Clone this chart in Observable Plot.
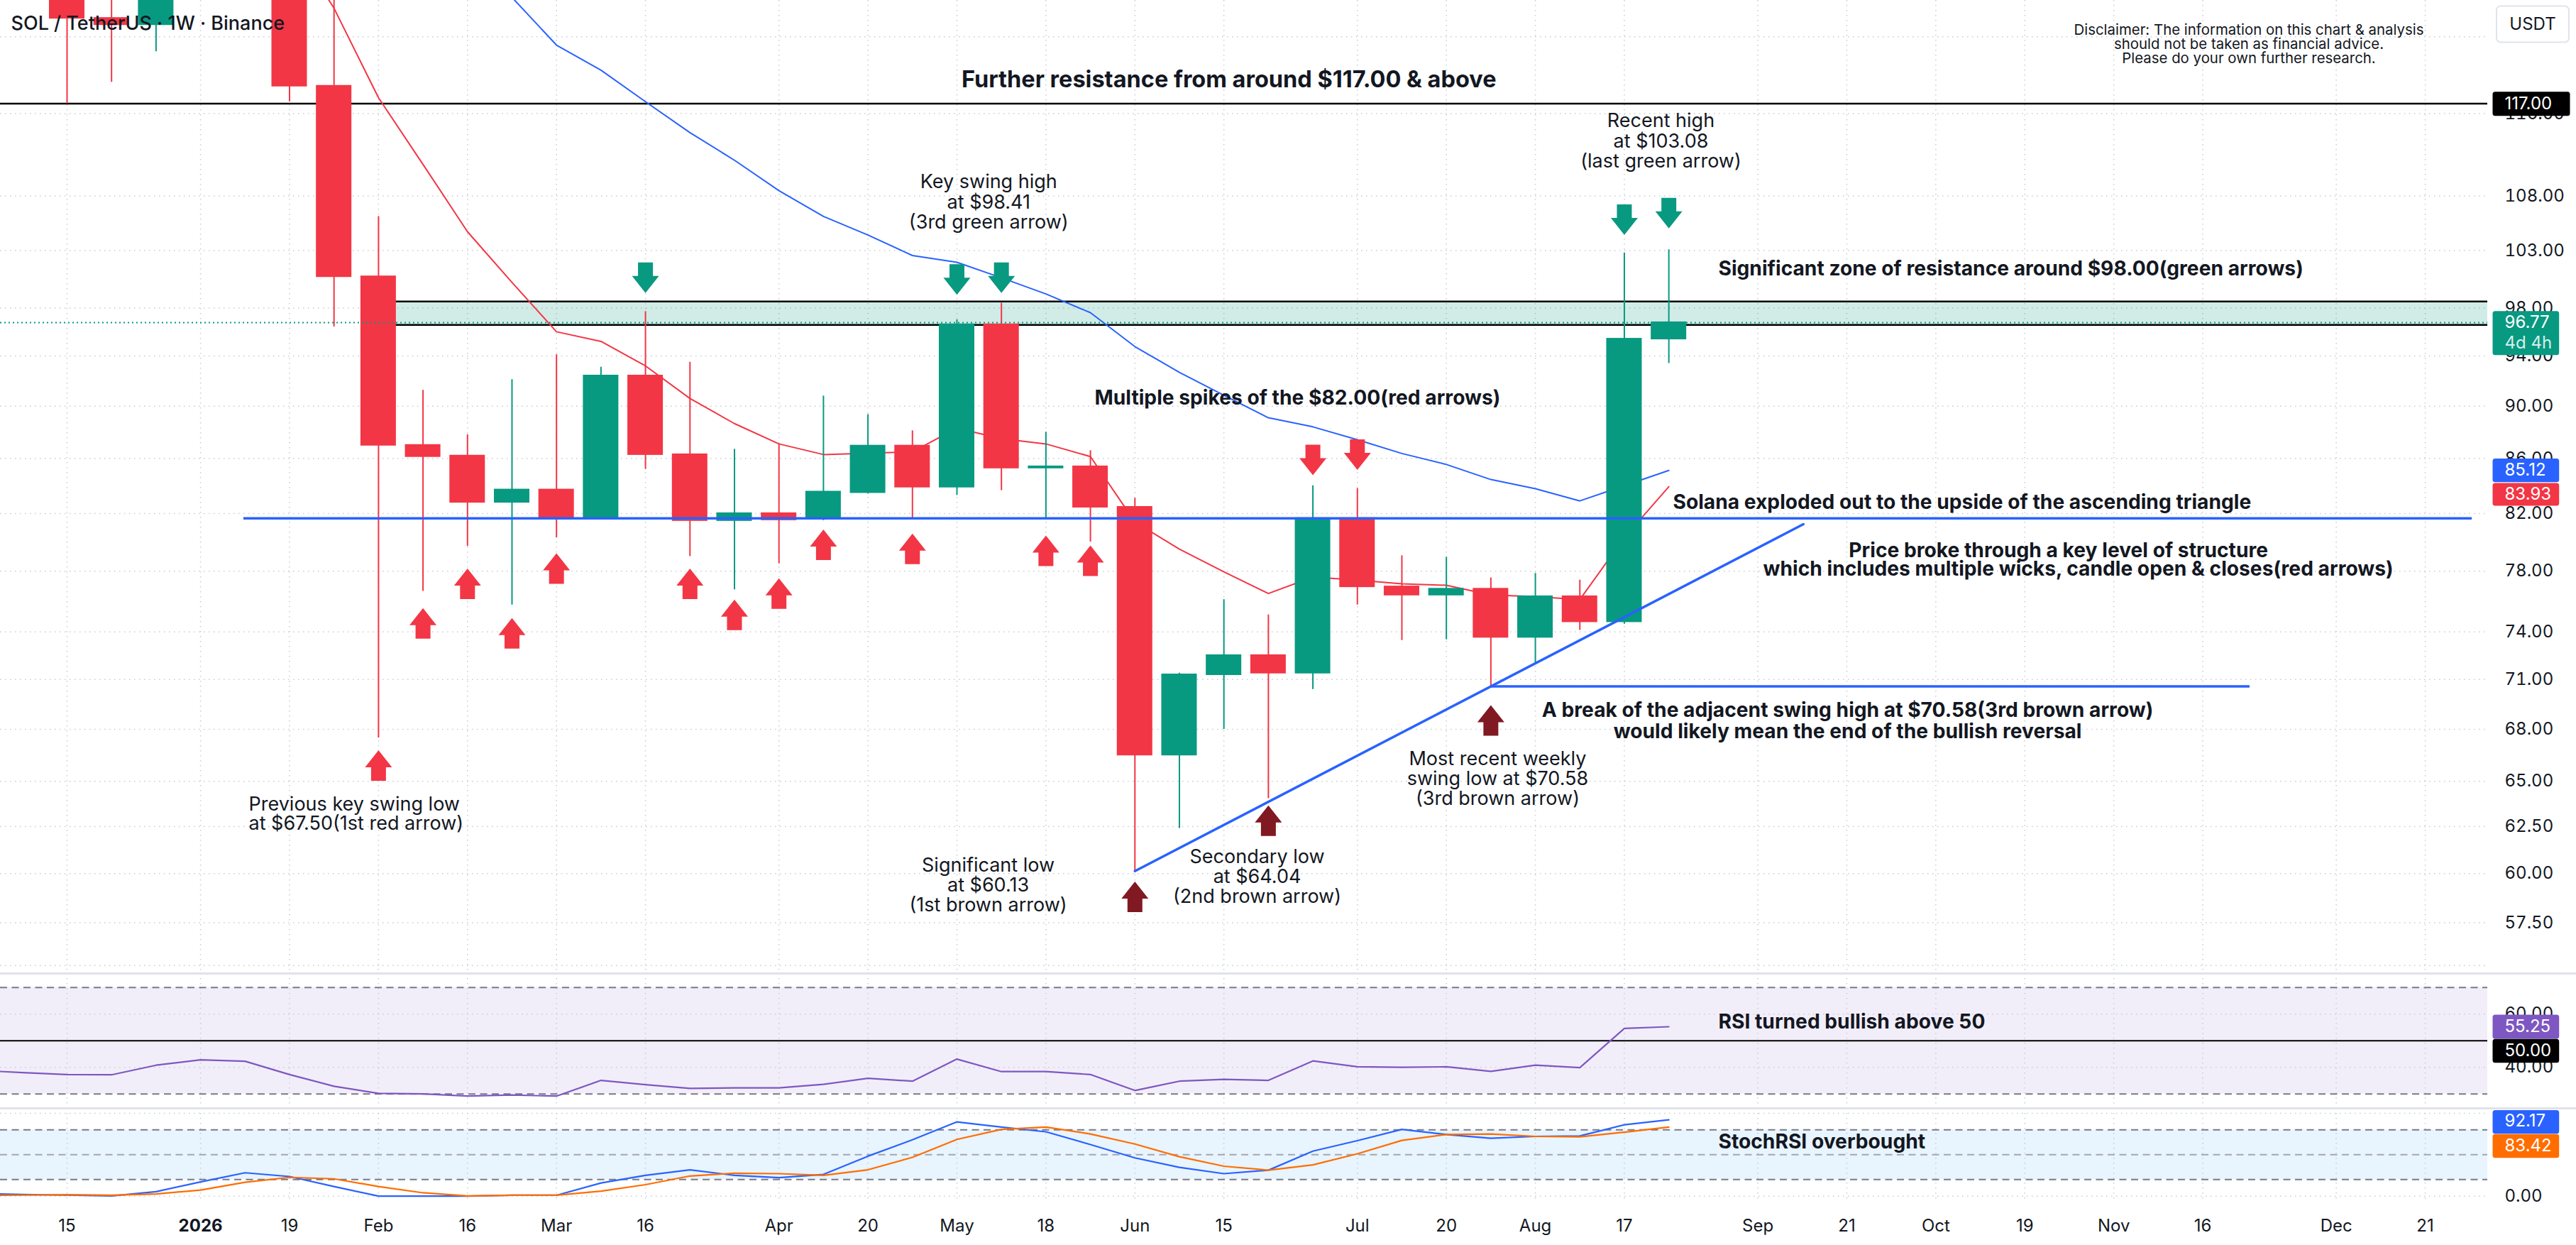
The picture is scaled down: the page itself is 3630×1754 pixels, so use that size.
<!DOCTYPE html>
<html>
<head>
<meta charset="utf-8">
<script src="https://cdn.jsdelivr.net/npm/d3@7"></script>
<script src="https://cdn.jsdelivr.net/npm/@observablehq/plot@0.6"></script>
<style>
html,body{margin:0;padding:0;background:#fff;}
#chart{width:3630px;height:1754px;overflow:hidden;background:#fff;}
#chart svg{display:block;}
</style>
</head>
<body>
<div id="chart"></div>
<script>
// ---------- DATA ----------
const weeks = ["2025-12-01","2025-12-08","2025-12-15","2025-12-22","2025-12-29","2026-01-05","2026-01-12","2026-01-19","2026-01-26","2026-02-02","2026-02-09","2026-02-16","2026-02-23","2026-03-02","2026-03-09","2026-03-16","2026-03-23","2026-03-30","2026-04-06","2026-04-13","2026-04-20","2026-04-27","2026-05-04","2026-05-11","2026-05-18","2026-05-25","2026-06-01","2026-06-08","2026-06-15","2026-06-22","2026-06-29","2026-07-06","2026-07-13","2026-07-20","2026-07-27","2026-08-03","2026-08-10","2026-08-17","2026-08-24"];
const open  = [null,null,131,126.0,125.3,null,null,131,118.8,100.7, 87.0,86.2,82.8,83.7,81.6,92.4,86.3,81.5,82.0,81.6, 83.5,86.95,83.9,96.6,85.3,85.4,82.45,66.5,71.3,72.5, 71.4,81.65,76.95,76.4,76.8,73.65,76.3,74.65,95.4];
const high  = [null,null,133,130,133,null,null,133,130,106.1, 91.25,87.8,92.1,94.1,93.1,97.7,93.5,86.7,87.1,90.8, 89.35,88.1,97.0,98.41,88.0,86.6,83.1,71.4,76.1,75.1, 84.0,83.8,79.05,78.95,77.55,77.85,77.4,102.8,103.08];
const low   = [null,null,117.0,119.2,122.4,null,null,117.2,96.4,67.5, 76.65,79.7,75.75,80.3,81.6,85.2,79.0,76.75,78.5,81.5, 83.4,81.55,83.3,83.65,81.6,80.0,60.13,62.4,68.0,64.04, 70.4,75.75,73.45,73.5,70.58,72.05,74.1,74.5,93.4];
const close = [null,null,126.0,125.3,131,null,null,118.8,100.7,87.0, 86.15,82.8,83.7,81.6,92.4,86.3,81.5,82.0,81.55,83.55, 86.95,83.9,96.6,85.3,85.4,82.45,66.5,71.3,72.5,71.4, 81.65,76.95,76.4,76.8,73.65,76.3,74.65,95.4,96.77];
const maShort = [null,null,null,null,null,null,null,135,127.1,117.6, 111.0,104.7,100.2,96.0,95.2,93.2,90.6,88.65,87.1,86.3, 86.4,86.5,88.3,87.5,87.1,86.15,81.4,79.5,77.95,76.5, 77.6,77.4,77.15,77.05,76.4,76.3,76.1,80.3,83.93];
const maLong  = [null,null,null,null,null,null,null,null,null,null, 140,134,128.3,123.1,120.45,117.2,114.1,111.4,108.5,106.1, 104.4,102.56,101.96,100.6,99.2,97.6,94.77,92.68,90.85,89.1, 88.4,87.42,86.38,85.56,84.45,83.78,82.9,84.0,85.12];
const rsi    = [38.9,38.0,37.3,37.2,40.8,42.8,42.3,37.3,32.9,30.2, 30.0,29.2,29.6,29.2,35.1,33.5,32.1,32.3,32.3,33.6, 35.9,34.8,43.1,38.4,38.4,37.3,31.3,34.8,35.5,35.1, 42.4,40.2,40.0,40.2,38.5,40.8,39.9,54.6,55.25];
const stochK = [3,2,1.2,0.3,5.4,17.2,28.2,23.7,11.6,0, 0,0,1,1,15.9,25.1,31.8,25.1,22.3,26.2, 48.2,68.0,89.6,83.4,77.7,62.3,46.2,34.7,27.1,31.3, 54.3,67.0,80.6,74.4,69.9,72.1,72.7,86.2,92.17];
const stochD = [1.0,1.2,1.7,1.0,2.6,7.3,16.7,22.6,20.9,11.6, 4.0,0.3,1,1,6.0,13.8,24.3,27.7,27.1,25.1, 31.8,46.8,68.5,80.6,83.4,75.0,62.9,47.6,36.1,31.3, 37.7,51.1,67.3,74.4,75.0,72.1,71.6,77.2,83.42];

const priceTicks = [116,108,103,98,94,90,86,82,78,74,71,68,65,62.5,60,57.5];
const extraPriceGrid = [124,55.4];
const timeTickDates  = ["2025-12-15","2026-01-05","2026-01-19","2026-02-02","2026-02-16","2026-03-02","2026-03-16","2026-04-06","2026-04-20","2026-05-04","2026-05-18","2026-06-01","2026-06-15","2026-07-06","2026-07-20","2026-08-03","2026-08-17","2026-09-07","2026-09-21","2026-10-05","2026-10-19","2026-11-02","2026-11-16","2026-12-07","2026-12-21"];
const timeTickLabels = ["15","2026","19","Feb","16","Mar","16","Apr","20","May","18","Jun","15","Jul","20","Aug","17","Sep","21","Oct","19","Nov","16","Dec","21"];

const resistance117 = [117];
const zone = [{start:"2026-02-02", low:96.57, high:98.55}];
const levelLines = [
  {start:"2026-01-11T19:00Z", end:"2026-12-28T09:00Z", price:81.66},
  {start:"2026-07-27", end:"2026-11-23T10:00Z", price:70.58}
];
const ascTrend = [{date:"2026-06-01", price:60.13},{date:"2026-09-14T04:00Z", price:81.24}];

const redUpArrows = [["2026-02-02",65.9],["2026-02-09",74.54],["2026-02-16",77.15],["2026-02-23",73.9],["2026-03-02",78.17],["2026-03-23",77.15],["2026-03-30",75.1],["2026-04-06",76.5],["2026-04-13",79.8],["2026-04-27",79.52],["2026-05-18",79.39],["2026-05-25",78.7]];
const redDownArrows = [["2026-06-29",85.9],["2026-07-06",86.3]];
const greenDownArrows = [["2026-03-16",100.6],["2026-05-04",100.45],["2026-05-11",100.6],["2026-08-17",105.8],["2026-08-24",106.4]];
const brownUpArrows = [["2026-06-01",58.8],["2026-06-22",62.82],["2026-07-27",68.52]];

const titleNote = [{date:"2026-05-04T17:30Z", price:119.45, text:"Further resistance from around $117.00 & above"}];
const boldNotesStart = [
  {date:"2026-08-31T19:00Z", price:101.4, text:"Significant zone of resistance around $98.00(green arrows)"},
  {date:"2026-05-25T16:00Z", price:90.65, text:"Multiple spikes of the $82.00(red arrows)"},
  {date:"2026-08-24T15:30Z", price:82.8, text:"Solana exploded out to the upside of the ascending triangle"}
];
const boldNotesMiddle = [
  {date:"2026-10-24T07:00Z", price:79.38, text:"Price broke through a key level of structure"},
  {date:"2026-10-27T10:00Z", price:78.13, text:"which includes multiple wicks, candle open & closes(red arrows)"},
  {date:"2026-09-21T03:00Z", price:68.5, text:"A break of the adjacent swing high at $70.58(3rd brown arrow)\nwould likely mean the end of the bullish reversal"}
];
const notesMiddle = [
  {date:"2026-08-22T18:00Z", price:113.28, text:"Recent high\nat $103.08\n(last green arrow)"},
  {date:"2026-05-09T00:00Z", price:107.44, text:"Key swing high\nat $98.41\n(3rd green arrow)"},
  {date:"2026-05-08T22:00Z", price:59.40, text:"Significant low\nat $60.13\n(1st brown arrow)"},
  {date:"2026-06-20T05:30Z", price:59.84, text:"Secondary low\nat $64.04\n(2nd brown arrow)"},
  {date:"2026-07-28T01:40Z", price:65.15, text:"Most recent weekly\nswing low at $70.58\n(3rd brown arrow)"}
];
const notesStart = [
  {date:"2026-01-12T14:00Z", price:63.18, text:"Previous key swing low\nat $67.50(1st red arrow)"}
];
const disclaimer = [{date:"2026-11-23T06:00Z", price:123.2, text:"Disclaimer: The information on this chart & analysis\nshould not be taken as financial advice.\nPlease do your own further research."}];
const legendText = ["SOL / TetherUS · 1W · Binance"];
const rsiNote = [{date:"2026-08-31T19:00Z", value:57.0, text:"RSI turned bullish above 50"}];
const stochNote = [{date:"2026-08-31T19:00Z", value:65.1, text:"StochRSI overbought"}];

// ---------- SETUP ----------
const W = 3630;
const xDomain = [new Date("2025-12-04T12:09Z"), new Date("2026-12-30T19:40Z")];
const farRight = new Date("2027-01-20T00:00Z");
const FONT = "Inter, 'Noto Sans', 'DejaVu Sans', sans-serif";
const TXT = "#131722";
const UP = "#089981", DOWN = "#F23645", BLUE = "#2962FF", BROWN = "#801922";
const PURPLE = "#7E57C2", ORANGE = "#FF6D00";
const GRID = "#c9ccd3";
const SEP = "#e0e3eb";
const dotted = {stroke: GRID, strokeWidth: 1.5, strokeDasharray: "1.5,5.5"};
const BOLD = 28.2, REG = 27;

const rows = weeks.map((w, i) => ({date: new Date(w), open: open[i], high: high[i], low: low[i], close: close[i],
  maS: maShort[i], maL: maLong[i], rsi: rsi[i], k: stochK[i], d: stochD[i]}));
const bars = rows.filter(d => d.open != null);
const upBars = bars.filter(d => d.close >= d.open);
const downBars = bars.filter(d => d.close < d.open);
const ticks = timeTickDates.map((d, i) => ({date: new Date(d), label: timeTickLabels[i]}));
const arrows = a => a.map(([d, p]) => ({date: new Date(d), price: p}));
const parseDates = a => a.map(d => ({...d, date: new Date(d.date)}));
const span = [{from: xDomain[0], to: farRight}];

const arrowUp = {draw(c){ c.moveTo(0,-21.5); c.lineTo(19,2.5); c.lineTo(10.5,2.5); c.lineTo(10.5,21.5); c.lineTo(-10.5,21.5); c.lineTo(-10.5,2.5); c.lineTo(-19,2.5); c.closePath(); }};
const arrowDown = {draw(c){ c.moveTo(0,21.5); c.lineTo(19,-2.5); c.lineTo(10.5,-2.5); c.lineTo(10.5,-21.5); c.lineTo(-10.5,-21.5); c.lineTo(-10.5,-2.5); c.lineTo(-19,-2.5); c.closePath(); }};
function boxSym(w, y0, y1, r) {
  return {draw(c){
    const x0 = -w/2, x1 = w/2;
    c.moveTo(x0 + r, y0); c.lineTo(x1 - r, y0); c.arcTo(x1, y0, x1, y0 + r, r);
    c.lineTo(x1, y1 - r); c.arcTo(x1, y1, x1 - r, y1, r);
    c.lineTo(x0 + r, y1); c.arcTo(x0, y1, x0, y1 - r, r);
    c.lineTo(x0, y0 + r); c.arcTo(x0, y0, x0 + r, y0, r); c.closePath();
  }};
}
// badge on the right price scale
function badge(value, label, color, {w = 93.7, top = -16.7, bottom = 16.7, dy = 0, dx = 53.85, sub = null, textColor = "white"} = {}) {
  const marks = [
    Plot.dot([value], {y: d => d, frameAnchor: "right", dx, symbol: boxSym(w, top, bottom, 3.5), fill: color, stroke: "none"}),
    Plot.text([value], {y: d => d, frameAnchor: "right", dx: 24, dy, text: () => label, textAnchor: "start", fill: textColor, fontSize: 24, fontFamily: FONT})
  ];
  if (sub) marks.push(Plot.text([value], {y: d => d, frameAnchor: "right", dx: 24, dy: dy + 28.5, text: () => sub, textAnchor: "start", fill: "white", fillOpacity: 0.85, fontSize: 24, fontFamily: FONT}));
  return marks;
}

// ---------- MAIN PANE ----------
const main = Plot.plot({
  width: W, height: 1371, marginLeft: 0, marginRight: 125, marginTop: 0, marginBottom: 0,
  x: {type: "utc", domain: xDomain, axis: null},
  y: {type: "log", domain: [55.02, 127.97], axis: null},
  style: {fontFamily: FONT, background: "white", color: TXT, overflow: "visible"},
  marks: [
    Plot.ruleY(priceTicks.concat(extraPriceGrid), dotted),
    Plot.ruleX(ticks, {x: "date", ...dotted}),
    Plot.rect(zone, {x1: d => new Date(d.start), x2: () => xDomain[1], y1: "low", y2: "high", fill: UP, fillOpacity: 0.19}),
    Plot.ruleY(zone, {x1: d => new Date(d.start), x2: () => xDomain[1], y: "low", stroke: "black", strokeWidth: 2.5}),
    Plot.ruleY(zone, {x1: d => new Date(d.start), x2: () => xDomain[1], y: "high", stroke: "black", strokeWidth: 2.5}),
    Plot.ruleY(resistance117, {stroke: "black", strokeWidth: 2.5}),
    Plot.line(rows, {x: "date", y: "maL", stroke: BLUE, strokeWidth: 2, clip: true}),
    Plot.line(rows, {x: "date", y: "maS", stroke: DOWN, strokeWidth: 2, clip: true}),
    Plot.ruleX(upBars, {x: "date", y1: "low", y2: "high", stroke: UP, strokeWidth: 2, clip: true}),
    Plot.ruleX(downBars, {x: "date", y1: "low", y2: "high", stroke: DOWN, strokeWidth: 2, clip: true}),
    Plot.rect(upBars, {x1: d => d3.utcHour.offset(d.date, -67), x2: d => d3.utcHour.offset(d.date, 67), y1: "open", y2: "close", fill: UP, insetTop: -1, insetBottom: -1, clip: true}),
    Plot.rect(downBars, {x1: d => d3.utcHour.offset(d.date, -67), x2: d => d3.utcHour.offset(d.date, 67), y1: "open", y2: "close", fill: DOWN, insetTop: -1, insetBottom: -1, clip: true}),
    Plot.ruleY([close[close.length - 1]], {stroke: UP, strokeWidth: 2, strokeDasharray: "2,4"}),
    Plot.ruleY(levelLines, {x1: d => new Date(d.start), x2: d => new Date(d.end), y: "price", stroke: BLUE, strokeWidth: 3.5}),
    Plot.line(parseDates(ascTrend), {x: "date", y: "price", stroke: BLUE, strokeWidth: 3.5}),
    Plot.dot(arrows(redUpArrows), {x: "date", y: "price", symbol: arrowUp, fill: DOWN, stroke: "none"}),
    Plot.dot(arrows(redDownArrows), {x: "date", y: "price", symbol: arrowDown, fill: DOWN, stroke: "none"}),
    Plot.dot(arrows(greenDownArrows), {x: "date", y: "price", symbol: arrowDown, fill: UP, stroke: "none"}),
    Plot.dot(arrows(brownUpArrows), {x: "date", y: "price", symbol: arrowUp, fill: BROWN, stroke: "none"}),
    Plot.text(parseDates(titleNote), {x: "date", y: "price", text: "text", textAnchor: "start", fontSize: 32.5, fontWeight: 700, fill: TXT}),
    Plot.text(parseDates(boldNotesStart), {x: "date", y: "price", text: "text", textAnchor: "start", fontSize: BOLD, fontWeight: 700, fill: TXT}),
    Plot.text(parseDates(boldNotesMiddle), {x: "date", y: "price", text: "text", textAnchor: "middle", fontSize: BOLD, fontWeight: 700, fill: TXT, lineHeight: 1.035}),
    Plot.text(parseDates(notesMiddle), {x: "date", y: "price", text: "text", textAnchor: "middle", fontSize: REG, fill: TXT, lineHeight: 1.045}),
    Plot.text(parseDates(notesStart), {x: "date", y: "price", text: "text", textAnchor: "start", fontSize: REG, fill: TXT, lineHeight: 1.02}),
    Plot.text(parseDates(disclaimer), {x: "date", y: "price", text: "text", textAnchor: "middle", fontSize: 20.4, fill: TXT, lineHeight: 0.98}),
    Plot.text(legendText, {frameAnchor: "top-left", dx: 15, dy: 33, textAnchor: "start", lineAnchor: "middle", fontSize: 27, fontWeight: 500, fill: TXT}),
    Plot.axisY(priceTicks, {anchor: "right", tickSize: 0, tickPadding: 24, tickFormat: d => d.toFixed(2), fontSize: 24, label: null, fill: TXT}),
    Plot.dot(["USDT"], {frameAnchor: "top-right", dx: 63.5, dy: 33.5, symbol: boxSym(102, -25.5, 25.5, 6), fill: "white", stroke: SEP, strokeWidth: 2}),
    Plot.text(["USDT"], {frameAnchor: "top-right", dx: 63.5, dy: 33.5, lineAnchor: "middle", textAnchor: "middle", fontSize: 24, fill: TXT}),
    ...badge(117, "117.00", "black", {w: 109, dx: 61.5, top: -16.8, bottom: 17.2}),
    ...badge(96.77, "96.77", UP, {top: -16.2, bottom: 45.8, sub: "4d 4h"}),
    ...badge(85.12, "85.12", BLUE, {top: -16.8, bottom: 16.4}),
    ...badge(83.93, "83.93", DOWN, {top: -5, bottom: 27, dy: 11})
  ]
});

// ---------- RSI PANE ----------
const rsiPane = Plot.plot({
  width: W, height: 190, marginLeft: 0, marginRight: 125, marginTop: 0, marginBottom: 0,
  x: {type: "utc", domain: xDomain, axis: null},
  y: {domain: [24.59, 75.25], axis: null},
  style: {fontFamily: FONT, background: "white", color: TXT, overflow: "visible"},
  marks: [
    Plot.rect([{lo: 30, hi: 70}], {y1: "lo", y2: "hi", fill: PURPLE, fillOpacity: 0.1}),
    Plot.ruleX(ticks, {x: "date", ...dotted}),
    Plot.ruleY([60, 40], dotted),
    Plot.ruleY([70, 30], {stroke: "#787B86", strokeWidth: 2, strokeDasharray: "10,6.5"}),
    Plot.ruleY([50], {stroke: "black", strokeWidth: 2}),
    Plot.line(rows, {x: "date", y: "rsi", stroke: PURPLE, strokeWidth: 2.2, clip: true}),
    Plot.text(parseDates(rsiNote), {x: "date", y: "value", text: "text", textAnchor: "start", fontSize: BOLD, fontWeight: 700, fill: TXT}),
    Plot.ruleY(span, {x1: "from", x2: "to", y: () => 75.25, stroke: SEP, strokeWidth: 3}),
    Plot.axisY([60, 40], {anchor: "right", tickSize: 0, tickPadding: 24, tickFormat: d => d.toFixed(2), fontSize: 24, label: null, fill: TXT}),
    ...badge(55.25, "55.25", PURPLE, {top: -17, bottom: 17}),
    ...badge(50, "50.00", "black", {top: -2.4, bottom: 31, dy: 14.3})
  ]
});

// ---------- STOCH RSI PANE + TIME AXIS ----------
const stochPane = Plot.plot({
  width: W, height: 193, marginLeft: 0, marginRight: 125, marginTop: 0, marginBottom: 61,
  x: {type: "utc", domain: xDomain, axis: null},
  y: {domain: [-7.17, 105.97], axis: null},
  style: {fontFamily: FONT, background: "white", color: TXT, overflow: "visible"},
  marks: [
    Plot.rect([{lo: 20, hi: 80}], {y1: "lo", y2: "hi", fill: "#2196F3", fillOpacity: 0.1}),
    Plot.ruleX(ticks, {x: "date", ...dotted}),
    Plot.ruleY([100, 0], dotted),
    Plot.ruleY([80, 20], {stroke: "#787B86", strokeWidth: 2, strokeDasharray: "10,6.5"}),
    Plot.ruleY([50], {stroke: "#a3a6af", strokeWidth: 2, strokeDasharray: "10,6.5"}),
    Plot.line(rows, {x: "date", y: "k", stroke: BLUE, strokeWidth: 2.2, clip: true}),
    Plot.line(rows, {x: "date", y: "d", stroke: ORANGE, strokeWidth: 2.2, clip: true}),
    Plot.text(parseDates(stochNote), {x: "date", y: "value", text: "text", textAnchor: "start", fontSize: BOLD, fontWeight: 700, fill: TXT}),
    Plot.ruleY(span, {x1: "from", x2: "to", y: () => 105.97, stroke: SEP, strokeWidth: 3}),
    Plot.axisY([0], {anchor: "right", tickSize: 0, tickPadding: 24, tickFormat: d => d.toFixed(2), fontSize: 24, label: null, fill: TXT}),
    Plot.text(ticks.filter(d => d.label !== "2026"), {x: "date", text: "label", frameAnchor: "bottom", dy: 34, lineAnchor: "middle", fontSize: 24, fill: TXT}),
    Plot.text(ticks.filter(d => d.label === "2026"), {x: "date", text: "label", frameAnchor: "bottom", dy: 34, lineAnchor: "middle", fontSize: 24, fontWeight: 700, fill: TXT}),
    ...badge(92.17, "92.17", BLUE, {top: -13.7, bottom: 19.7, dy: 2}),
    ...badge(83.42, "83.42", ORANGE, {top: 10, bottom: 43.4, dy: 26.7})
  ]
});

const root = document.getElementById("chart");
root.append(main, rsiPane, stochPane);
</script>
</body>
</html>
